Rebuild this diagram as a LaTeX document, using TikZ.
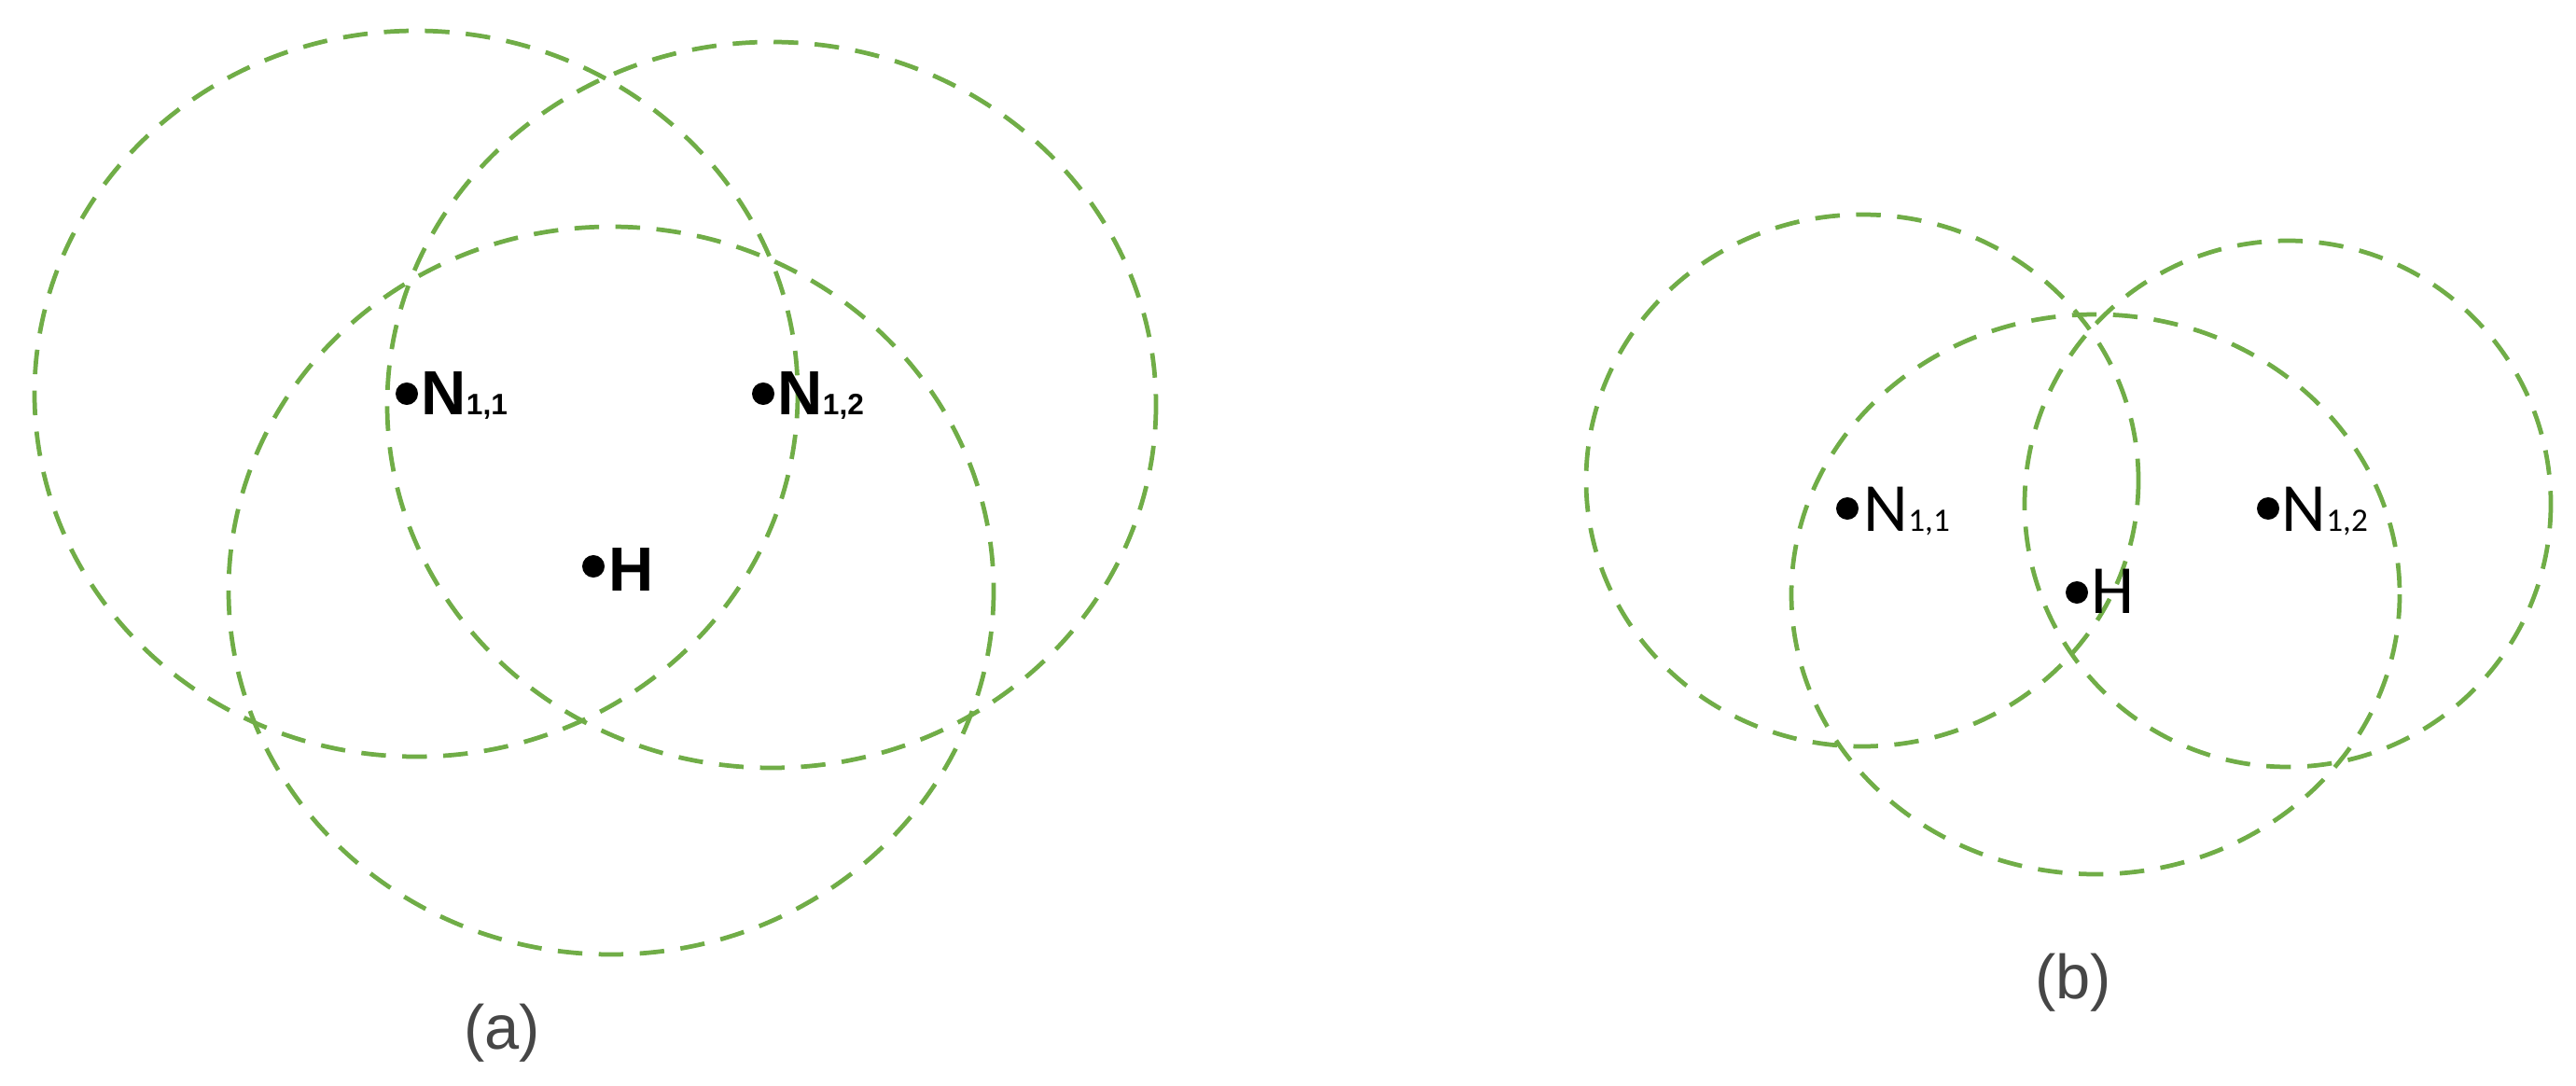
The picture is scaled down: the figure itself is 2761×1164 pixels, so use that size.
\documentclass[tikz,border=0pt]{standalone}
\usepackage{fontspec}
\setmainfont{Liberation Sans}
\newfontfamily\carl{Carlito}
\definecolor{ringgreen}{RGB}{112,173,71}
\definecolor{captiongray}{RGB}{70,70,70}
\tikzset{
  ring/.style={draw=ringgreen, line width=1.35pt, dash pattern=on 7.5pt off 5pt},
  dot/.style={circle, fill=black, inner sep=0pt, minimum size=0.24cm},
  lbla/.style={anchor=base west, inner sep=0pt, font=\fontsize{19}{19}\selectfont\bfseries},
  lblb/.style={anchor=base west, inner sep=0pt, font=\fontsize{21}{21}\selectfont\carl},
  capt/.style={anchor=center, inner sep=0pt, text=captiongray, font=\fontsize{19}{19}\selectfont}
}
\newcommand{\subsa}[1]{{\fontsize{9}{9}\selectfont #1}}
\newcommand{\subsb}[1]{{\fontsize{10}{10}\selectfont #1}}
\begin{document}
\begin{tikzpicture}[x=0.01cm, y=-0.01cm]
\useasboundingbox[fill=white] (0,0) rectangle (2761,1164);
% ---------- panel (a) ----------
\draw[ring] (446,422) ellipse [x radius=409, y radius=389];
\draw[ring] (827,434) ellipse [x radius=412, y radius=389];
\draw[ring] (655,633) ellipse [x radius=410, y radius=390];
\node[dot] (a11) at (436,422) {};
\node[dot] (a12) at (818,422) {};
\node[dot] (aH)  at (636,607) {};
\node[lbla] (a11l) at (451,445) {N\subsa{1,1}};
\node[lbla] (a12l) at (833,445) {N\subsa{1,2}};
\node[lbla] (aHl)  at (652,633) {H};
\node[capt] (capa) at (538,1107) {(a)};
% ---------- panel (b) ----------
\draw[ring] (1996,515) ellipse [x radius=296, y radius=285];
\draw[ring] (2452,540) ellipse [x radius=282, y radius=282];
\draw[ring] (2246,637) ellipse [x radius=326, y radius=300];
\node[dot] (b11) at (1980,545) {};
\node[dot] (b12) at (2431,545) {};
\node[dot] (bH)  at (2226,635) {};
\node[lblb] (b11l) at (1997,569) {N\subsb{1,1}};
\node[lblb] (b12l) at (2445,569) {N\subsb{1,2}};
\node[lblb] (bHl)  at (2241,657) {H};
\node[capt] (capb) at (2222,1053) {(b)};
\end{tikzpicture}
\end{document}
